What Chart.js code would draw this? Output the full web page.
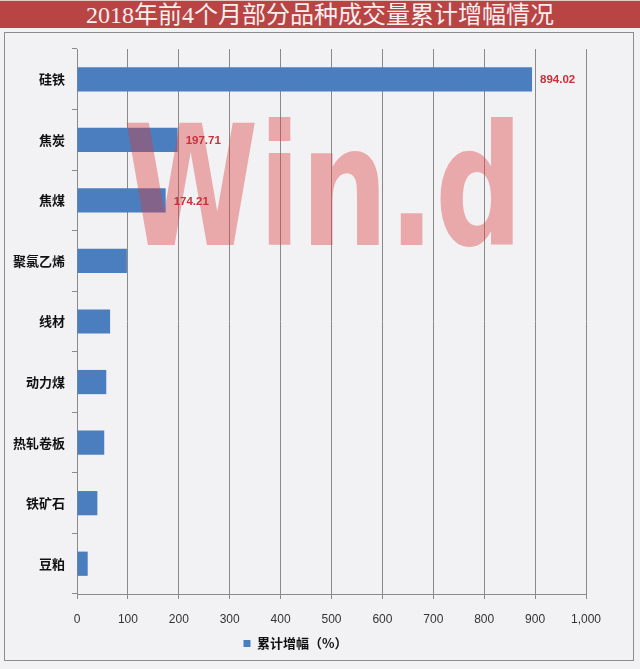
<!DOCTYPE html>
<html>
<head>
<meta charset="utf-8">
<script src="https://cdn.jsdelivr.net/npm/chart.js@4.4.1/dist/chart.umd.min.js"></script>
<style>
  html, body { margin: 0; padding: 0; background: #f2f1f4; }
  #page { position: relative; width: 640px; height: 669px; overflow: hidden; }
  #title {
    position: absolute; left: 0; top: 0; width: 640px; height: 28px;
    background: #b84444; color: #fbeeee; text-align: center;
    font: 24px "Liberation Serif", "Noto Sans CJK SC", serif; line-height: 29px;
    border-top: 1px solid #e8c8c8; box-sizing: border-box;
  }
  #box {
    position: absolute; left: 4px; top: 32px; width: 630px; height: 629px;
    border: 1px solid #8c8c8c; box-sizing: border-box; background: #f2f1f4;
  }
  #box canvas { display: block; }
</style>
</head>
<body>
<div id="page">
  <div id="title">2018年前4个月部分品种成交量累计增幅情况</div>
  <div id="box"><canvas id="growthChart" width="628" height="627"></canvas></div>
</div>
<script>
// 2018年前4个月 各品种成交量累计增幅（%）
const products = ['硅铁', '焦炭', '焦煤', '聚氯乙烯', '线材', '动力煤', '热轧卷板', '铁矿石', '豆粕'];
const growth = [894.02, 197.71, 174.21, 98, 65, 57.5, 53.5, 40, 21];
const labelledBars = [0, 1, 2]; // only these carry a value label
const seriesName = '累计增幅（%）';
const xTicks = [0, 100, 200, 300, 400, 500, 600, 700, 800, 900, 1000];

const cjk = '"Noto Sans CJK SC", "Noto Sans", sans-serif';

// big "Win.d" mark over the plot, then red value labels on top of it
const overlayPlugin = {
  id: 'overlay',
  afterDatasetsDraw(chart) {
    const ctx = chart.ctx;
    ctx.save();
    ctx.font = 'bold 168px "DejaVu Sans", sans-serif';
    const w = ctx.measureText('Win.d').width;
    ctx.translate(118, 212);
    ctx.scale(400 / w, 1);
    ctx.fillStyle = 'rgba(220, 60, 60, 0.4)';
    ctx.textBaseline = 'alphabetic';
    ctx.fillText('Win.d', 0, 0);
    ctx.restore();

    const meta = chart.getDatasetMeta(0);
    ctx.save();
    ctx.font = 'bold 11.5px "Liberation Sans", sans-serif';
    ctx.fillStyle = '#c8303a';
    ctx.textBaseline = 'middle';
    ctx.textAlign = 'left';
    labelledBars.forEach(i => {
      const bar = meta.data[i];
      ctx.fillText(growth[i].toFixed(2), bar.x + 8, bar.y + 1);
    });
    ctx.restore();
  }
};

new Chart(document.getElementById('growthChart').getContext('2d'), {
  type: 'bar',
  data: {
    labels: products,
    datasets: [{
      label: seriesName,
      data: growth,
      backgroundColor: '#4a7ebf',
      borderWidth: 0,
      categoryPercentage: 0.8,
      barPercentage: 0.5
    }]
  },
  options: {
    indexAxis: 'y',
    responsive: false,
    animation: false,
    layout: { padding: { top: 16, right: 47, bottom: 0, left: 0 } },
    plugins: {
      tooltip: { enabled: false },
      legend: {
        position: 'bottom',
        labels: {
          boxWidth: 7, boxHeight: 7, padding: 10,
          color: '#111',
          font: { family: cjk, size: 13, weight: 'bold' }
        }
      }
    },
    scales: {
      x: {
        min: 0, max: 1000,
        afterBuildTicks(axis) { axis.ticks = xTicks.map(v => ({ value: v })); },
        grid: { color: '#8a8a8a', lineWidth: 1, tickLength: 5 },
        border: { color: '#8a8a8a' },
        ticks: {
          padding: 13,
          color: '#333',
          font: { family: '"Liberation Sans", sans-serif', size: 12 },
          callback: v => v.toLocaleString('en-US')
        },
        afterFit(axis) { axis.height = 33; }
      },
      y: {
        grid: { drawOnChartArea: false, color: '#8a8a8a', tickLength: 5 },
        border: { color: '#8a8a8a' },
        ticks: {
          padding: 7,
          color: '#111',
          font: { family: cjk, size: 13, weight: 'bold' }
        },
        afterFit(axis) { axis.width = 72; }
      }
    }
  },
  plugins: [overlayPlugin]
});
</script>
</body>
</html>
